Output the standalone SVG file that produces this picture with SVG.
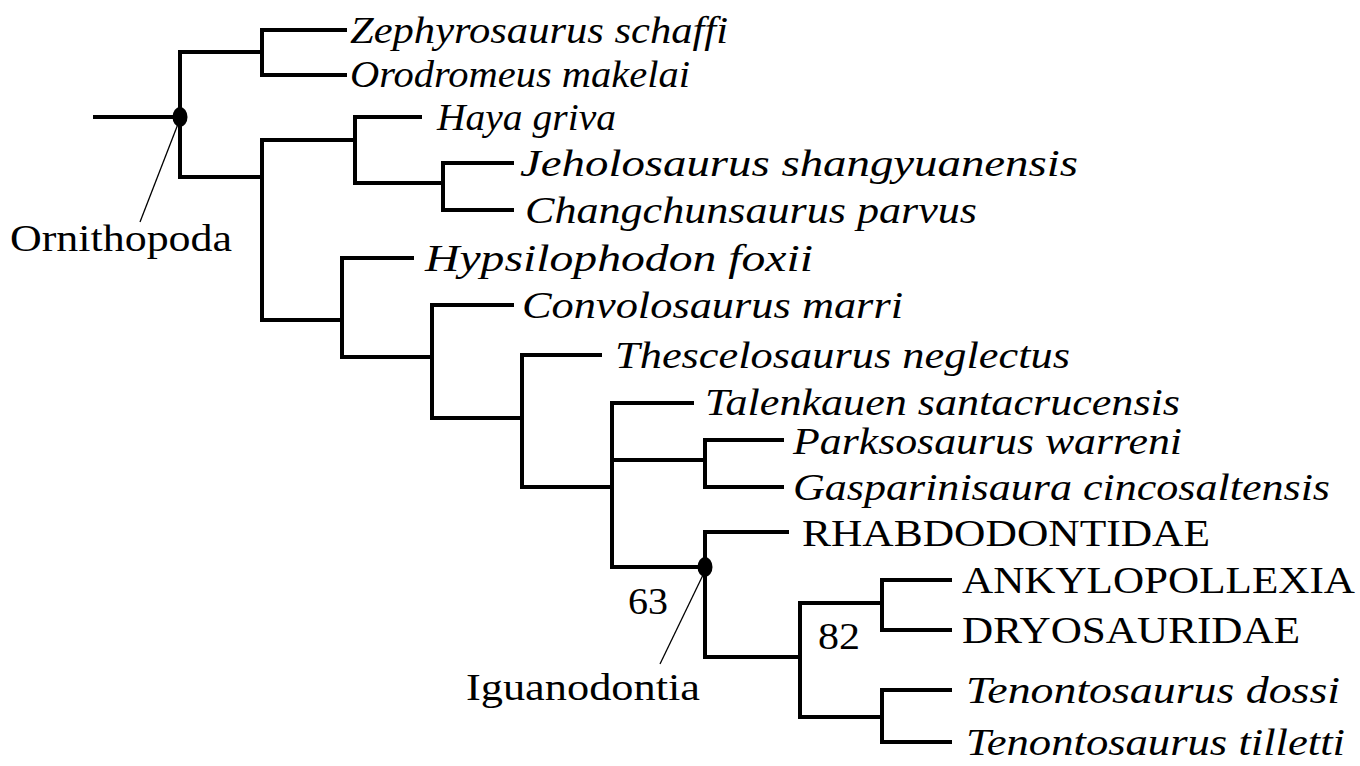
<svg xmlns="http://www.w3.org/2000/svg" width="1360" height="766" viewBox="0 0 1360 766">
<style>
.e{fill:none;stroke:#000;stroke-width:4;stroke-linecap:square}
.l{stroke:#000;stroke-width:1.3}
text{font-family:"Liberation Serif","Times New Roman",serif;font-size:38px;fill:#000}
.i{font-style:italic}
</style>
<rect width="1360" height="766" fill="#fff"/>
<g id="connectors">
<path class="e" d="M95 117H180M180 52V177M180 52H262M262 30V75M262 30H345M262 75H345"/>
<path class="e" d="M180 177H262M262 140V320M262 140H355M355 117V183M355 117H420M355 183H443M443 163V210M443 163H512M443 210H512"/>
<path class="e" d="M262 320H342M342 258V357M342 258H412M342 357H432M432 305V418M432 305H512M432 418H522M522 355V487M522 355H600M522 487H612"/>
<path class="e" d="M612 403V567M612 403H692M612 460H705M705 440V487M705 440H782M705 487H782M612 567H705"/>
<path class="e" d="M705 532V657M705 532H787M705 657H800M800 603V717M800 603H882M882 580V630M882 580H950M882 630H950M800 717H882M882 690V742M882 690H950M882 742H950"/>
<line class="l" x1="178" y1="124" x2="140" y2="222"/>
<line class="l" x1="703" y1="575" x2="660" y2="664"/>
<ellipse cx="180" cy="117" rx="7.5" ry="10"/>
<ellipse cx="705" cy="567" rx="7.5" ry="10"/>
</g>
<g id="n-zeph"><text class="i" x="350" y="43" textLength="378" lengthAdjust="spacingAndGlyphs">Zephyrosaurus schaffi</text></g>
<g id="n-oro"><text class="i" x="350" y="87" textLength="340" lengthAdjust="spacingAndGlyphs">Orodromeus makelai</text></g>
<g id="n-haya"><text class="i" x="437" y="130" textLength="179" lengthAdjust="spacingAndGlyphs">Haya griva</text></g>
<g id="n-jeho"><text class="i" x="520" y="176" textLength="558" lengthAdjust="spacingAndGlyphs">Jeholosaurus shangyuanensis</text></g>
<g id="n-chang"><text class="i" x="525" y="223" textLength="452" lengthAdjust="spacingAndGlyphs">Changchunsaurus parvus</text></g>
<g id="n-hyps"><text class="i" x="425" y="271" textLength="388" lengthAdjust="spacingAndGlyphs">Hypsilophodon foxii</text></g>
<g id="n-conv"><text class="i" x="522" y="318" textLength="381" lengthAdjust="spacingAndGlyphs">Convolosaurus marri</text></g>
<g id="n-thes"><text class="i" x="615" y="368" textLength="455" lengthAdjust="spacingAndGlyphs">Thescelosaurus neglectus</text></g>
<g id="n-tal"><text class="i" x="705" y="415" textLength="475" lengthAdjust="spacingAndGlyphs">Talenkauen santacrucensis</text></g>
<g id="n-park"><text class="i" x="793" y="454" textLength="389" lengthAdjust="spacingAndGlyphs">Parksosaurus warreni</text></g>
<g id="n-gasp"><text class="i" x="793" y="500" textLength="537" lengthAdjust="spacingAndGlyphs">Gasparinisaura cincosaltensis</text></g>
<g id="n-rhab"><text x="802" y="546" textLength="408" lengthAdjust="spacingAndGlyphs">RHABDODONTIDAE</text></g>
<g id="n-ank"><text x="962" y="593" textLength="393" lengthAdjust="spacingAndGlyphs">ANKYLOPOLLEXIA</text></g>
<g id="n-dry"><text x="962" y="643" textLength="338" lengthAdjust="spacingAndGlyphs">DRYOSAURIDAE</text></g>
<g id="n-tdos"><text class="i" x="966" y="703" textLength="374" lengthAdjust="spacingAndGlyphs">Tenontosaurus dossi</text></g>
<g id="n-ttil"><text class="i" x="966" y="755" textLength="379" lengthAdjust="spacingAndGlyphs">Tenontosaurus tilletti</text></g>
<g id="n-orn"><text x="10" y="251" textLength="222" lengthAdjust="spacingAndGlyphs">Ornithopoda</text></g>
<g id="n-igu"><text x="466" y="700" textLength="234" lengthAdjust="spacingAndGlyphs">Iguanodontia</text></g>
<g id="n-63"><text x="628" y="614" textLength="40" lengthAdjust="spacingAndGlyphs">63</text></g>
<g id="n-82"><text x="818" y="649" textLength="42" lengthAdjust="spacingAndGlyphs">82</text></g>
</svg>
